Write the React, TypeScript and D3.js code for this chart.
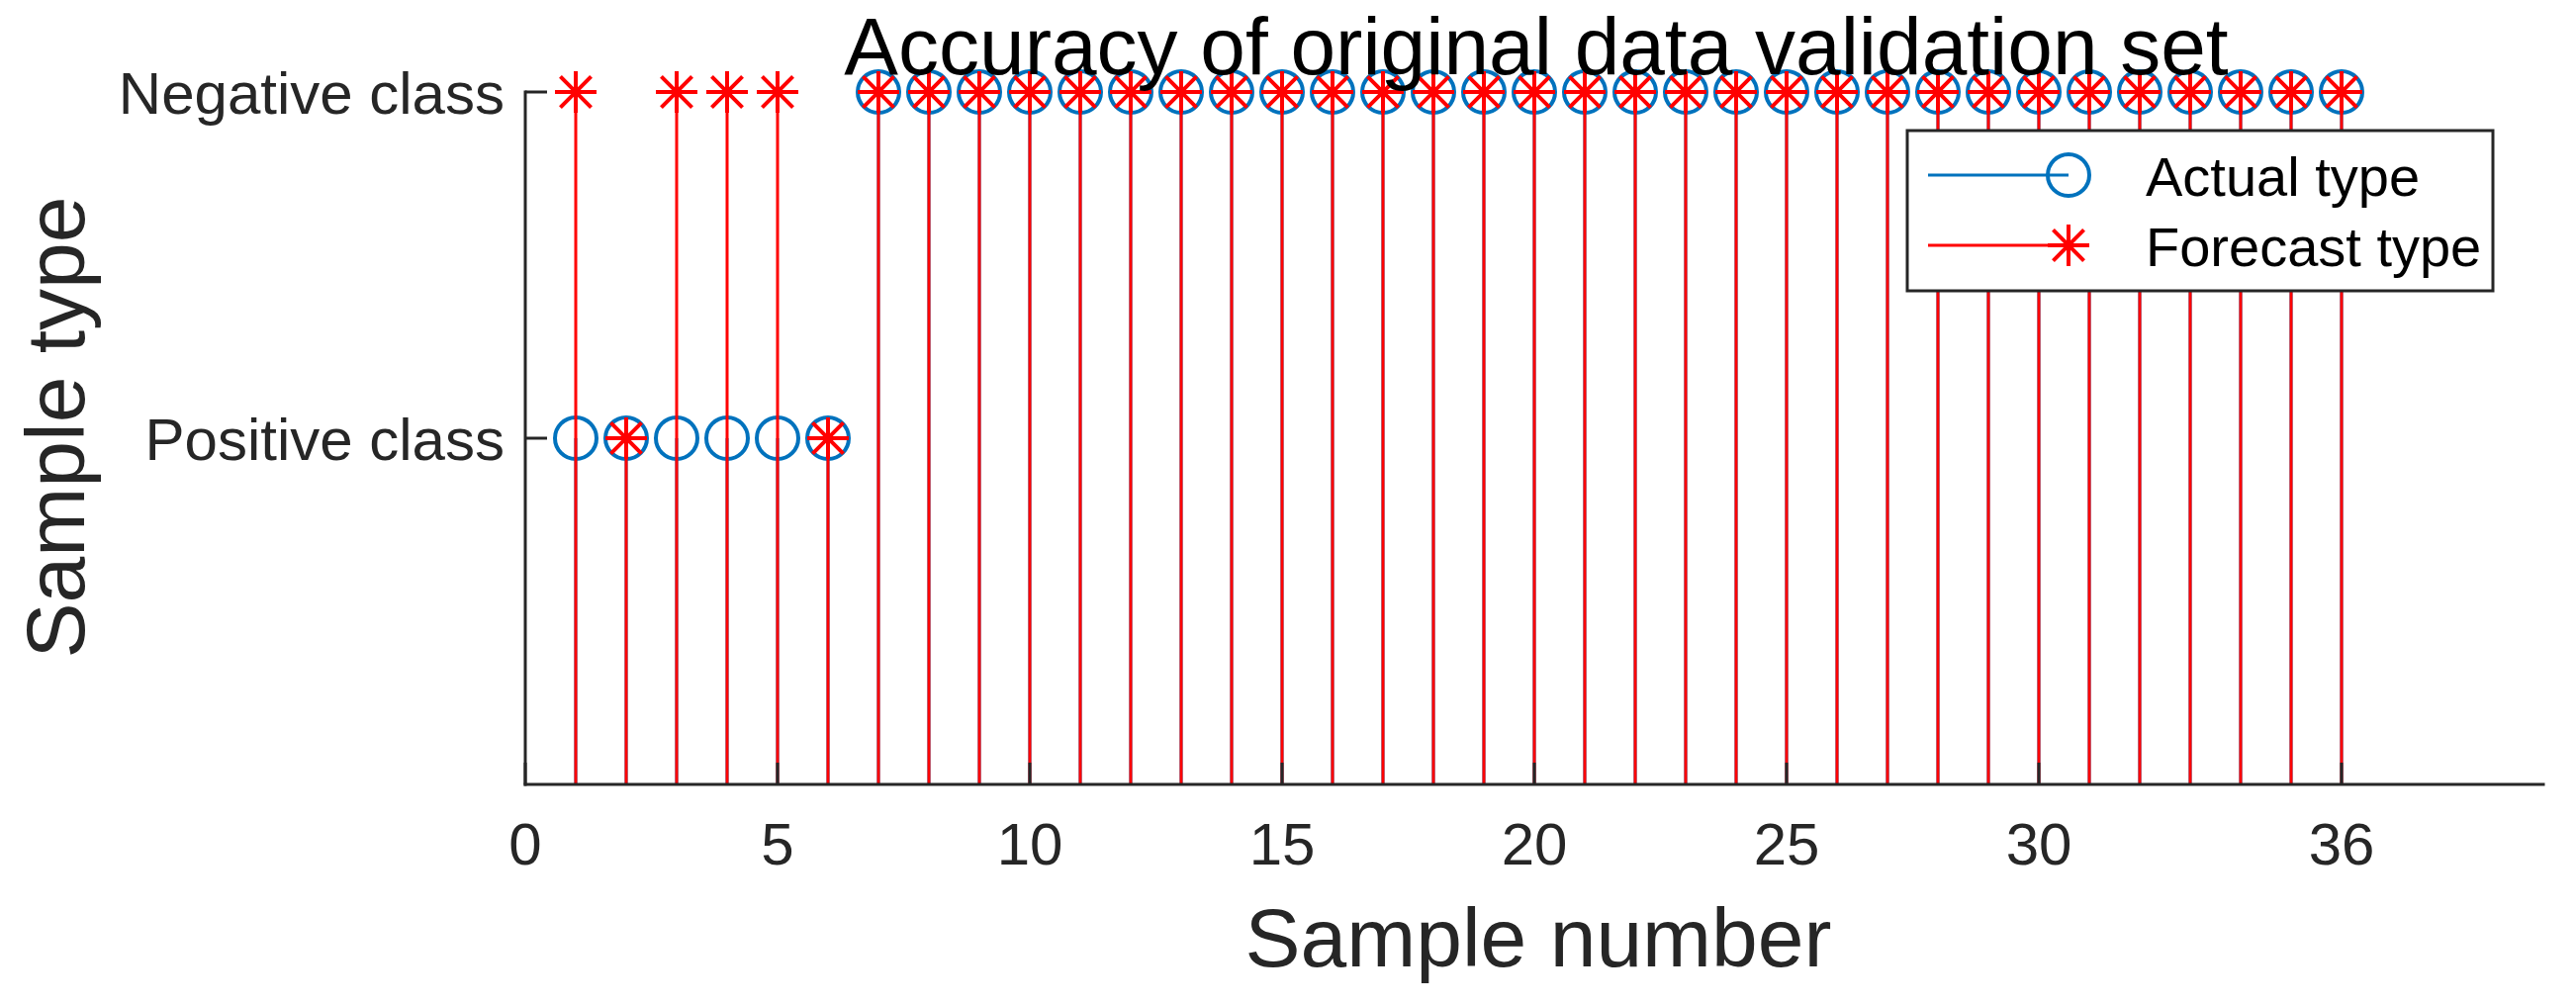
import React from "react";
import * as d3 from "d3";

// ---- Data ----
const sampleNumbers = [
  1, 2, 3, 4, 5, 6, 7, 8, 9, 10, 11, 12, 13, 14, 15, 16, 17, 18,
  19, 20, 21, 22, 23, 24, 25, 26, 27, 28, 29, 30, 31, 32, 33, 34, 35, 36,
];
// 1 = Positive class, 2 = Negative class
const actualType = [
  1, 1, 1, 1, 1, 1, 2, 2, 2, 2, 2, 2, 2, 2, 2, 2, 2, 2,
  2, 2, 2, 2, 2, 2, 2, 2, 2, 2, 2, 2, 2, 2, 2, 2, 2, 2,
];
const forecastType = [
  2, 1, 2, 2, 2, 1, 2, 2, 2, 2, 2, 2, 2, 2, 2, 2, 2, 2,
  2, 2, 2, 2, 2, 2, 2, 2, 2, 2, 2, 2, 2, 2, 2, 2, 2, 2,
];
const yTickValues = [1, 2];
const yTickLabels = ["Positive class", "Negative class"];
const xTickValues = [0, 5, 10, 15, 20, 25, 30, 36];
const xDomain = [0, 40];
const yDomain = [0, 2];
const titleText = "Accuracy of original data validation set";
const xLabel = "Sample number";
const yLabel = "Sample type";
const legendLabels = ["Actual type", "Forecast type"];

// ---- Layout ----
const W = 2604;
const H = 1015;
const left = 531;
const right = 2571;
const top = 93;
const bottom = 793;
const axisColor = "#262626";
const blue = "#0072BD";
const red = "#FF0000";
const font = "'Liberation Sans', Arial, Helvetica, sans-serif";
const tickLen = 22;
const markerR = 21;

function asteriskPath(r: number) {
  const d = r * 0.74;
  return `M${-r},0H${r}M0,${-r}V${r}M${-d},${-d}L${d},${d}M${-d},${d}L${d},${-d}`;
}

export default function App() {
  const x = d3.scaleLinear().domain(xDomain).range([left, right]);
  const y = d3.scaleLinear().domain(yDomain).range([bottom, top]);
  const star = asteriskPath(markerR);

  const legX = 1928, legY = 132, legW = 592, legH = 162;
  const legRows = [177, 248];

  return (
    <svg
      width={W}
      height={H}
      style={{ position: "absolute", left: 0, top: 0, background: "#fff" }}
      fontFamily={font}
    >
      <rect x={0} y={0} width={W} height={H} fill="#fff" />

      {/* Actual type stems + circles */}
      <g>
        {sampleNumbers.map((s, i) => (
          <line
            key={"as" + s}
            x1={x(s)}
            x2={x(s)}
            y1={y(0)}
            y2={y(actualType[i])}
            stroke={blue}
            strokeWidth={3}
          />
        ))}
        {sampleNumbers.map((s, i) => (
          <circle
            key={"ac" + s}
            cx={x(s)}
            cy={y(actualType[i])}
            r={markerR}
            fill="none"
            stroke={blue}
            strokeWidth={4}
          />
        ))}
      </g>

      {/* Forecast type stems + asterisks */}
      <g>
        {sampleNumbers.map((s, i) => (
          <line
            key={"fs" + s}
            x1={x(s)}
            x2={x(s)}
            y1={y(0)}
            y2={y(forecastType[i])}
            stroke={red}
            strokeWidth={3}
          />
        ))}
        {sampleNumbers.map((s, i) => (
          <path
            key={"fm" + s}
            d={star}
            transform={`translate(${x(s)},${y(forecastType[i])})`}
            fill="none"
            stroke={red}
            strokeWidth={4}
          />
        ))}
      </g>

      {/* Axes */}
      <g stroke={axisColor} strokeWidth={3} fill="none">
        <line x1={left} x2={right} y1={bottom} y2={bottom} strokeLinecap="square" />
        <line x1={left} x2={left} y1={bottom} y2={top} strokeLinecap="square" />
        {xTickValues.map((v) => (
          <line key={"xt" + v} x1={x(v)} x2={x(v)} y1={bottom} y2={bottom - tickLen} />
        ))}
        {yTickValues.map((v) => (
          <line key={"yt" + v} x1={left} x2={left + tickLen} y1={y(v)} y2={y(v)} />
        ))}
      </g>

      {/* Tick labels */}
      <g fill={axisColor} fontSize={60}>
        {xTickValues.map((v) => (
          <text key={"xl" + v} x={x(v)} y={874} textAnchor="middle">
            {v}
          </text>
        ))}
        {yTickValues.map((v, i) => (
          <text key={"yl" + v} x={510} y={y(v) + 22} textAnchor="end">
            {yTickLabels[i]}
          </text>
        ))}
      </g>

      {/* Axis titles */}
      <text x={1555} y={977} textAnchor="middle" fontSize={84} fill={axisColor}>
        {xLabel}
      </text>
      <text
        transform={`translate(85,${432}) rotate(-90)`}
        textAnchor="middle"
        fontSize={84}
        fill={axisColor}
      >
        {yLabel}
      </text>

      {/* Title */}
      <text x={1553} y={75} textAnchor="middle" fontSize={82} fill="#000">
        {titleText}
      </text>

      {/* Legend */}
      <g>
        <rect
          x={legX}
          y={legY}
          width={legW}
          height={legH}
          fill="#fff"
          stroke={axisColor}
          strokeWidth={3}
        />
        <line x1={1949} x2={2091} y1={legRows[0]} y2={legRows[0]} stroke={blue} strokeWidth={3} />
        <circle cx={2091} cy={legRows[0]} r={markerR} fill="none" stroke={blue} strokeWidth={4} />
        <line x1={1949} x2={2091} y1={legRows[1]} y2={legRows[1]} stroke={red} strokeWidth={3} />
        <path
          d={star}
          transform={`translate(2091,${legRows[1]})`}
          fill="none"
          stroke={red}
          strokeWidth={4}
        />
        <text x={2169} y={legRows[0] + 21} fontSize={56} fill="#000">
          {legendLabels[0]}
        </text>
        <text x={2169} y={legRows[1] + 21} fontSize={56} fill="#000">
          {legendLabels[1]}
        </text>
      </g>
    </svg>
  );
}
